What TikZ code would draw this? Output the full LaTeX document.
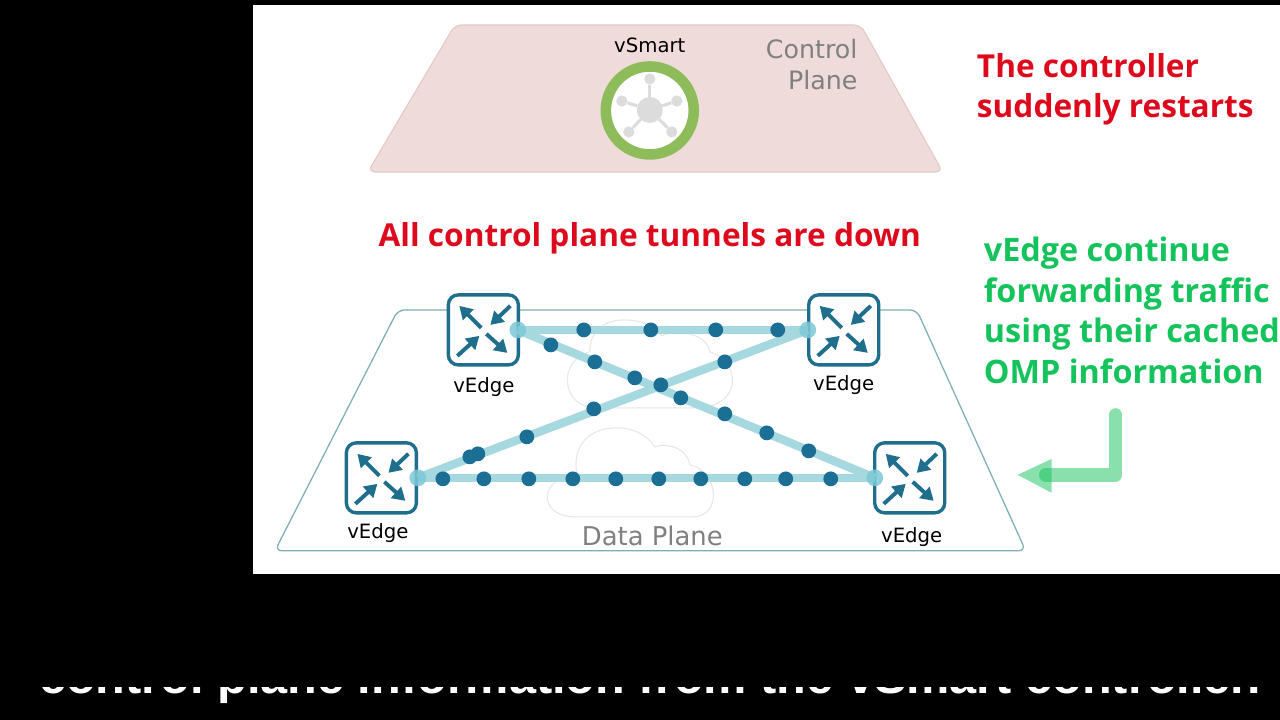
\documentclass[tikz,border=0pt]{standalone}
\usepackage{fontspec}
\setmainfont{DejaVu Sans}
\newfontfamily\subfont{Liberation Sans}
\newfontfamily\headfont{Open Sans}
\usetikzlibrary{arrows.meta}
\definecolor{routerblue}{HTML}{1F6E8C}
\definecolor{tunnelblue}{HTML}{A6D8E0}
\definecolor{blobblue}{HTML}{7CC8D6}
\definecolor{dotblue}{HTML}{1B6F94}
\definecolor{planepink}{HTML}{EFDCDA}
\definecolor{planeedge}{HTML}{E3C9C8}
\definecolor{planeteal}{HTML}{7FAFB3}
\definecolor{ringgreen}{HTML}{8FBC5A}
\definecolor{hubgray}{HTML}{DCDCDC}
\definecolor{alertred}{HTML}{DD0A1E}
\definecolor{notegreen}{HTML}{14C35C}
\begin{document}
\begin{tikzpicture}[x=0.025cm,y=-0.025cm,>=stealth,
    router/.style={draw=routerblue,line width=2.4pt,rounded corners=7pt,fill=white,minimum size=1.75cm,inner sep=0pt},
    tunnel/.style={draw=tunnelblue,line width=6pt},
    tunnelend/.style={circle,fill=blobblue,opacity=0.85,minimum size=0.42cm,inner sep=0pt},
    dot/.style={circle,fill=dotblue,minimum size=0.37cm,inner sep=0pt},
    sat/.style={circle,fill=hubgray,minimum size=0.28cm,inner sep=0pt},
    spoke/.style={draw=hubgray,line width=2.2pt},
    devicelabel/.style={font=\fontsize{14}{17}\selectfont,inner sep=0pt},
    planelabel/.style={font=\fontsize{18}{22}\selectfont,text=black!50,inner sep=0pt},
    redtext/.style={font=\headfont\bfseries\fontsize{22.5}{28.4}\selectfont,text=alertred,inner sep=0pt},
    greentext/.style={font=\headfont\bfseries\fontsize{23}{29}\selectfont,text=notegreen,inner sep=0pt},
    cloudline/.style={draw=black!9,line width=0.8pt},
    routerarrow/.style={-{Triangle[length=9pt,width=10.5pt]},routerblue,line width=2.8pt},
    routerarrows/.pic={
        \draw[routerarrow] (-2,-2) -- (-24,-24);
        \draw[routerarrow] (27,-24) -- (7,-5);
        \draw[routerarrow] (-26,26) -- (-4,6);
        \draw[routerarrow] (3,4) -- (24,23);
    }]

            \fill[black] (0,0) rectangle (1280,720);
            \fill[white] (253,5) rectangle (1280,574);

            \fill[planepink,draw=planeedge,line width=0.8pt,rounded corners=5pt] (455,25) -- (861,25) -- (943,172) -- (368,172) -- cycle;
            \draw[planeteal,line width=0.9pt,rounded corners=5pt] (398,310) -- (917,310) -- (1026,551) -- (275,551) -- cycle;

            \path[cloudline] (597,408) .. controls (560,408) and (558,360) .. (590,352) .. controls (590,330) and (605,320) .. (625,320) .. controls (645,320) and (655,328) .. (662,336) .. controls (680,328) and (708,335) .. (710,352) .. controls (740,360) and (745,408) .. (695,408) -- cycle;
            \path[cloudline] (575,517) .. controls (538,517) and (538,478) .. (577,474) .. controls (572,445) and (590,428) .. (617,428) .. controls (635,428) and (648,436) .. (655,447) .. controls (670,442) and (688,450) .. (690,465) .. controls (720,472) and (722,517) .. (693,517) -- cycle;

            \node[circle,draw=ringgreen,line width=7.5pt,fill=white,minimum width=2.2cm,minimum height=2.2cm,inner sep=0pt] (ring) at (650,110.5) {};
            \node[circle,fill=hubgray,minimum size=0.65cm,inner sep=0pt] (hub) at (650,110) {};
            \foreach \n/\x/\y in {a/650/79,b/622/101,c/677/101,d/629/132,e/672/132} {
                \node[sat] (sat\n) at (\x,\y) {};
                \draw[spoke] (hub) to (sat\n);
            }

            \node[devicelabel] (smartlabel) at (650,45) {vSmart};
            \node[planelabel,align=right,anchor=east] (controllabel) at (858,64.5) {Control\\Plane};

            \node[redtext,align=left,anchor=west] (restart) at (977,89) {The controller\\suddenly restarts};
            \node[redtext,anchor=center] (down) at (650,238) {All control plane tunnels are down};
            \node[greentext,align=left,anchor=west] (cached) at (984,310.5) {vEdge continue\\forwarding traffic\\using their cached\\OMP information};

            \node[router] (r1) at (483.5,330) {};
            \node[router] (r2) at (844,330) {};
            \node[router] (r3) at (381.5,478) {};
            \node[router] (r4) at (910,478) {};
            \pic at (r1) {routerarrows};
            \pic at (r2) {routerarrows};
            \pic at (r3) {routerarrows};
            \pic at (r4) {routerarrows};

            \node[devicelabel] (l1) at (484,387) {vEdge};
            \node[devicelabel] (l2) at (844,385) {vEdge};
            \node[devicelabel] (l3) at (378,533) {vEdge};
            \node[devicelabel] (l4) at (912,537) {vEdge};

            \node[planelabel,font=\fontsize{18.4}{21}\selectfont] (datalabel) at (652.5,536.5) {Data Plane};

            \coordinate (e1) at (518,330);
            \coordinate (e2) at (808,330);
            \coordinate (e3) at (418,478);
            \coordinate (e4) at (875,478);
            \draw[tunnel] (e1) to (e2);
            \draw[tunnel] (e1) to (e4);
            \draw[tunnel] (e3) to (e2);
            \draw[tunnel] (e3) to (e4);

            \node[tunnelend] (b1) at (e1) {};
            \node[tunnelend] (b2) at (e2) {};
            \node[tunnelend] (b3) at (e3) {};
            \node[tunnelend] (b4) at (e4) {};

            \foreach \x in {584,651,716,778}
                \node[dot] (top\x) at (\x,330) {};
            \foreach \x in {443,484,529,573,616,659,701,745,786,831}
                \node[dot] (bot\x) at (\x,479) {};
            \foreach \x/\y in {551/345,595/362,635/378,681/398,725/414,767/433,809/451}
                \node[dot] (fall\x) at (\x,\y) {};
            \foreach \x/\y in {470/457,478/454,527/437,594/409,661/385,725/362}
                \node[dot] (rise\x) at (\x,\y) {};

            \coordinate (bendtop) at (1116,415);
            \coordinate (bendcorner) at (1116,475);
            \coordinate (bendend) at (1046,475);
            \draw[notegreen,opacity=0.5,line width=9.5pt,line cap=round,line join=round] (bendtop) -- (bendcorner) -- (bendend);
            \fill[notegreen,opacity=0.5] (1018,475) -- (1052,459) -- (1052,493) -- cycle;

            \begin{scope}
                \clip (0,688) rectangle (1280,720);
                \node[font=\subfont\bfseries\fontsize{34.6}{40}\selectfont,text=white,anchor=base,inner sep=0pt] (caption) at (650,693.5) {control plane information from the vSmart controller.};
            \end{scope}

            ;
        \end{tikzpicture}
\end{document}
